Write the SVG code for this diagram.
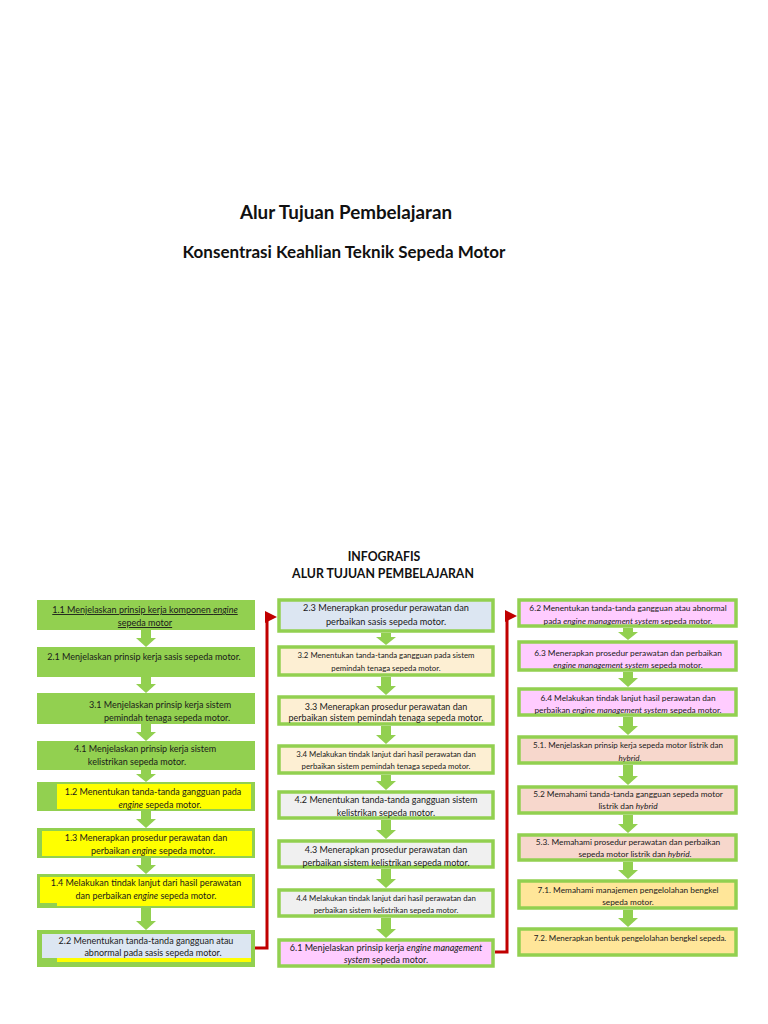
<svg xmlns="http://www.w3.org/2000/svg" width="768" height="1024" viewBox="0 0 768 1024">
<style>
.t{font-family:Lato,"Liberation Sans",sans-serif;fill:#1a1a1a;text-anchor:middle}
.h{font-family:Lato,"Liberation Sans",sans-serif;font-weight:bold;fill:#111;text-anchor:middle}
.g{fill:#92d050}
.b{stroke:#92d050;stroke-width:3.5}
.c23{fill:#dce6f2}
.c3{fill:#fdefd3}
.c4{fill:#f0f0f0}
.c6{fill:#ffccff}
.c5{fill:#f7d7cc}
.c7{fill:#ffe699}
.y{fill:#ffff00}
.a{fill:#92d050}
.r{fill:none;stroke:#c00000;stroke-width:3}
.i{font-style:italic}
</style>
<defs>
<marker id="ah" markerWidth="4" markerHeight="4" refX="1" refY="2" orient="auto" markerUnits="strokeWidth">
<path d="M0,0 L4,2 L0,4 Z" fill="#c00000"/>
</marker>
</defs>
<rect width="768" height="1024" fill="#fff"/>

<g id="titles">
<text class="h" x="346" y="219" font-size="18.8">Alur Tujuan Pembelajaran</text>
<text class="h" x="344" y="258" font-size="17">Konsentrasi Keahlian Teknik Sepeda Motor</text>
<text class="h" x="384" y="561" font-size="12.3">INFOGRAFIS</text>
<text class="h" x="383" y="578" font-size="12.3">ALUR TUJUAN PEMBELAJARAN</text>
</g>

<g id="connectors">
<path class="a" d="M141,630H151V638H156L146,647L136,638H141Z"/>
<path class="a" d="M141,677H151V684H156L146,693L136,684H141Z"/>
<path class="a" d="M141,724H151V732H156L146,741L136,732H141Z"/>
<path class="a" d="M141,770H151V774H156L146,782L136,774H141Z"/>
<path class="a" d="M141,811H151V819H156L146,828L136,819H141Z"/>
<path class="a" d="M141,858H151V865H156L146,874L136,865H141Z"/>
<path class="a" d="M141,908H151V921H156L146,930L136,921H141Z"/>

<path class="a" d="M381,633H391V637H396L386,645L376,637H381Z"/>
<path class="a" d="M381,677H391V686H396L386,695L376,686H381Z"/>
<path class="a" d="M381,726H391V735H396L386,744L376,735H381Z"/>
<path class="a" d="M381,775H391V781H396L386,790L376,781H381Z"/>
<path class="a" d="M381,820H391V830H396L386,839L376,830H381Z"/>
<path class="a" d="M381,869H391V879H396L386,888L376,879H381Z"/>
<path class="a" d="M381,918H391V929H396L386,938L376,929H381Z"/>

<path class="a" d="M623,628H633V632H638L628,640L618,632H623Z"/>
<path class="a" d="M623,672H633V678H638L628,687L618,678H623Z"/>
<path class="a" d="M623,717H633V726H638L628,735L618,726H623Z"/>
<path class="a" d="M623,765H633V776H638L628,785L618,776H623Z"/>
<path class="a" d="M623,815H633V824H638L628,833L618,824H623Z"/>
<path class="a" d="M623,862H633V870H638L628,879L618,870H623Z"/>
<path class="a" d="M623,910H633V918H638L628,927L618,918H623Z"/>

<path class="r" d="M255,948H267V617H268" marker-end="url(#ah)"/>
<path class="r" d="M495,952H507V616H508" marker-end="url(#ah)"/>
</g>

<g id="n11"><rect class="g" x="37" y="600" width="218" height="30"/>
<text class="t" x="145" y="613" font-size="9" text-decoration="underline">1.1 Menjelaskan prinsip kerja komponen <tspan class="i">engine</tspan></text>
<text class="t" x="145" y="626" font-size="9" text-decoration="underline">sepeda motor</text></g>

<g id="n21"><rect class="g" x="37" y="647" width="218" height="30"/>
<text class="t" x="144" y="660" font-size="9">2.1 Menjelaskan prinsip kerja sasis sepeda motor.</text></g>

<g id="n31"><rect class="g" x="37" y="693" width="218" height="31"/>
<text class="t" x="160" y="708" font-size="9">3.1 Menjelaskan prinsip kerja sistem</text>
<text class="t" x="167" y="721" font-size="9">pemindah tenaga sepeda motor.</text></g>

<g id="n41"><rect class="g" x="37" y="741" width="218" height="29"/>
<text class="t" x="145" y="752" font-size="9">4.1  Menjelaskan prinsip kerja sistem</text>
<text class="t" x="137" y="765" font-size="9">kelistrikan sepeda motor.</text></g>

<g id="n12"><rect class="g" x="37" y="782" width="218" height="29"/>
<rect class="y" x="57" y="784" width="194" height="25"/>
<text class="t" x="153" y="795" font-size="9">1.2 Menentukan tanda-tanda gangguan pada</text>
<text class="t" x="160" y="808" font-size="9"><tspan class="i">engine</tspan> sepeda motor.</text></g>

<g id="n13"><rect class="g" x="37" y="828" width="218" height="30"/>
<rect class="y" x="42" y="831" width="210" height="25"/>
<text class="t" x="146" y="841" font-size="9">1.3 Menerapkan prosedur perawatan dan</text>
<text class="t" x="153" y="854" font-size="9">perbaikan <tspan class="i">engine</tspan> sepeda motor.</text></g>

<g id="n14"><rect class="g" x="37" y="874" width="218" height="34"/>
<rect class="y" x="40" y="877" width="212" height="26"/>
<rect class="y" x="57" y="900" width="195" height="6"/>
<text class="t" x="146" y="886" font-size="9">1.4 Melakukan tindak lanjut dari hasil perawatan</text>
<text class="t" x="146" y="899" font-size="9">dan perbaikan <tspan class="i">engine</tspan> sepeda motor.</text></g>

<g id="n22"><rect class="g" x="37" y="930" width="218" height="37"/>
<rect class="c23" x="42" y="934" width="209" height="24"/>
<rect class="y" x="57" y="958" width="194" height="4"/>
<text class="t" x="146" y="944" font-size="9">2.2  Menentukan tanda-tanda gangguan atau</text>
<text class="t" x="153" y="956" font-size="9">abnormal pada sasis sepeda motor.</text></g>

<g id="n23"><rect class="c23 b" x="279" y="600" width="214" height="31"/>
<text class="t" x="386" y="611" font-size="9.2">2.3 Menerapkan prosedur perawatan dan</text>
<text class="t" x="386" y="625" font-size="9.2">perbaikan sasis sepeda motor.</text></g>

<g id="n32"><rect class="c3 b" x="279" y="647" width="214" height="28"/>
<text class="t" x="386" y="658" font-size="7.8">3.2 Menentukan tanda-tanda gangguan pada sistem</text>
<text class="t" x="386" y="671" font-size="7.8">pemindah tenaga sepeda motor.</text></g>

<g id="n33"><rect class="c3 b" x="279" y="697" width="214" height="27"/>
<text class="t" x="386" y="710" font-size="9">3.3 Menerapkan prosedur perawatan dan</text>
<text class="t" x="386" y="721" font-size="9">perbaikan sistem pemindah tenaga sepeda motor.</text></g>

<g id="n34"><rect class="c3 b" x="279" y="746" width="214" height="27"/>
<text class="t" x="386" y="757" font-size="7.8">3.4 Melakukan tindak lanjut dari hasil perawatan dan</text>
<text class="t" x="386" y="769" font-size="7.8">perbaikan sistem pemindah tenaga sepeda motor.</text></g>

<g id="n42"><rect class="c4 b" x="279" y="792" width="214" height="26"/>
<text class="t" x="386" y="803" font-size="9">4.2 Menentukan tanda-tanda gangguan sistem</text>
<text class="t" x="386" y="816" font-size="9">kelistrikan sepeda motor.</text></g>

<g id="n43"><rect class="c4 b" x="279" y="841" width="214" height="26"/>
<text class="t" x="386" y="853" font-size="9">4.3 Menerapkan prosedur perawatan dan</text>
<text class="t" x="386" y="866" font-size="9">perbaikan sistem kelistrikan sepeda motor.</text></g>

<g id="n44"><rect class="c4 b" x="279" y="890" width="214" height="26"/>
<text class="t" x="386" y="901" font-size="7.8">4.4 Melakukan tindak lanjut dari hasil perawatan dan</text>
<text class="t" x="386" y="913" font-size="7.8">perbaikan sistem kelistrikan sepeda motor.</text></g>

<g id="n61"><rect class="c6 b" x="279" y="940" width="214" height="26"/>
<text class="t" x="386" y="951" font-size="9">6.1 Menjelaskan prinsip kerja <tspan class="i">engine management</tspan></text>
<text class="t" x="386" y="963" font-size="9"><tspan class="i">system</tspan> sepeda motor.</text></g>

<g id="n62"><rect class="c6 b" x="519" y="600" width="217" height="26"/>
<text class="t" x="628" y="611" font-size="8.3">6.2 Menentukan tanda-tanda gangguan atau abnormal</text>
<text class="t" x="628" y="624" font-size="8.3">pada <tspan class="i">engine management system</tspan> sepeda motor.</text></g>

<g id="n63"><rect class="c6 b" x="519" y="642" width="217" height="28"/>
<text class="t" x="628" y="656" font-size="8.3">6.3 Menerapkan prosedur perawatan dan perbaikan</text>
<text class="t" x="628" y="668" font-size="8.3"><tspan class="i">engine management system</tspan> sepeda motor.</text></g>

<g id="n64"><rect class="c6 b" x="519" y="689" width="217" height="26"/>
<text class="t" x="628" y="701" font-size="8.3">6.4 Melakukan tindak lanjut hasil perawatan dan</text>
<text class="t" x="628" y="713" font-size="8.3">perbaikan <tspan class="i">engine management system</tspan> sepeda motor.</text></g>

<g id="n51"><rect class="c5 b" x="519" y="737" width="217" height="26"/>
<text class="t" x="628" y="748" font-size="8">5.1. Menjelaskan prinsip kerja sepeda motor listrik dan</text>
<text class="t" x="630" y="761" font-size="8"><tspan class="i">hybrid</tspan>.</text></g>

<g id="n52"><rect class="c5 b" x="519" y="787" width="217" height="26"/>
<text class="t" x="628" y="797" font-size="8.3">5.2 Memahami tanda-tanda gangguan sepeda motor</text>
<text class="t" x="628" y="809" font-size="8.3">listrik dan <tspan class="i">hybrid</tspan></text></g>

<g id="n53"><rect class="c5 b" x="519" y="835" width="217" height="25"/>
<text class="t" x="628" y="845" font-size="8.3">5.3. Memahami prosedur perawatan dan perbaikan</text>
<text class="t" x="635" y="857" font-size="8.3">sepeda motor listrik dan <tspan class="i">hybrid</tspan>.</text></g>

<g id="n71"><rect class="c7 b" x="519" y="881" width="217" height="27"/>
<text class="t" x="628" y="893" font-size="8.3">7.1. Memahami manajemen pengelolahan bengkel</text>
<text class="t" x="628" y="905" font-size="8.3">sepeda motor.</text></g>

<g id="n72"><rect class="c7 b" x="519" y="929" width="217" height="26"/>
<text class="t" x="630" y="941" font-size="8">7.2. Menerapkan bentuk pengelolahan bengkel sepeda.</text></g>
</svg>
